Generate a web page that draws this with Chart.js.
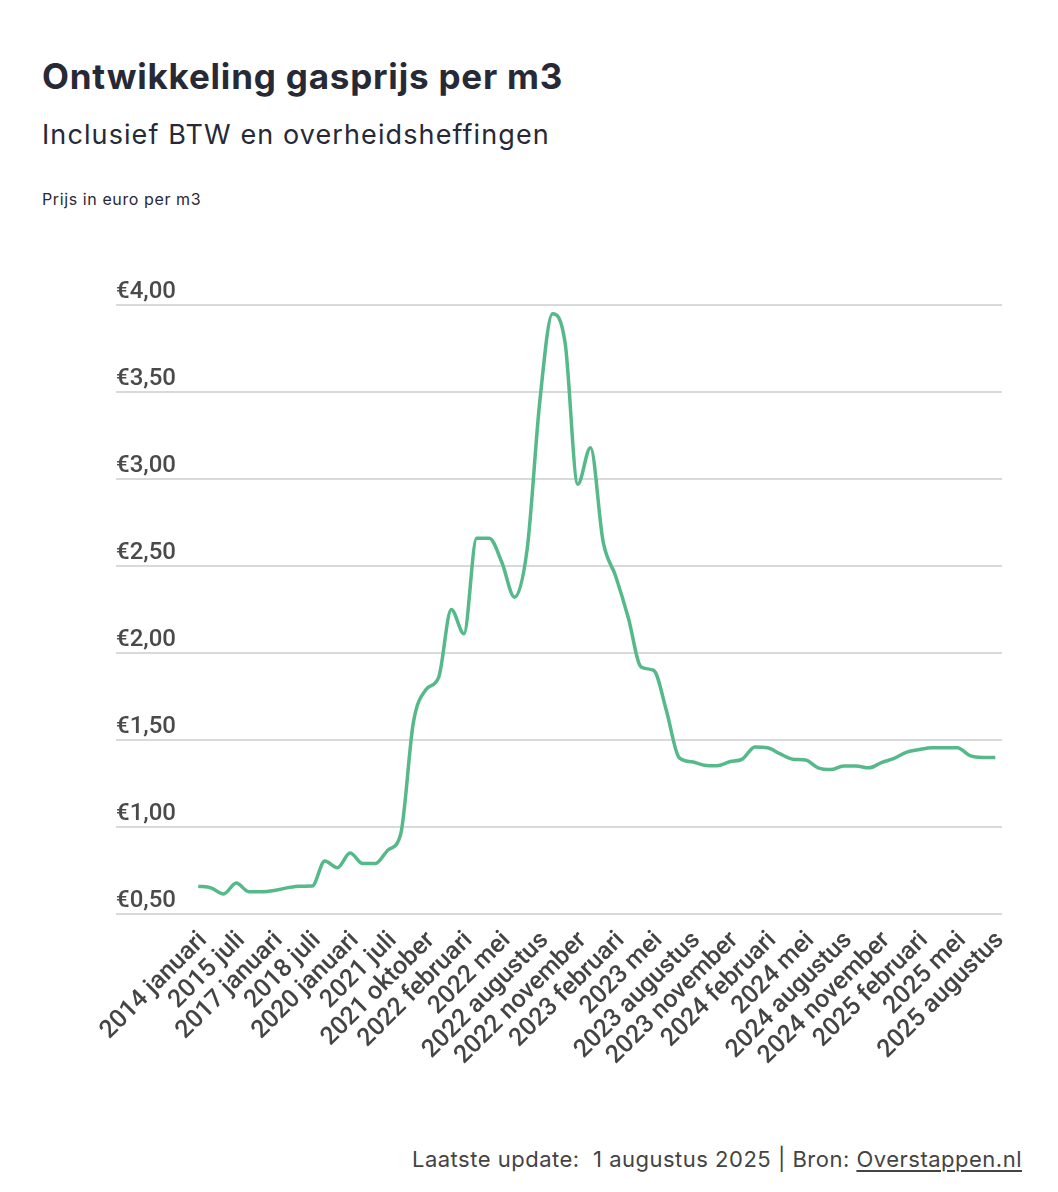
<!DOCTYPE html>
<html>
<head>
<meta charset="utf-8">
<script src="https://cdn.jsdelivr.net/npm/chart.js@4/dist/chart.umd.min.js"></script>
<style>
  body { margin: 0; background: #fff; }
  #page { position: relative; width: 1058px; height: 1192px; font-family: Inter, "Noto Sans", sans-serif; color: #272a36; }
  #title { position: absolute; left: 42px; top: 55px; font-size: 35px; font-weight: 700; letter-spacing: 0.8px; line-height: 42px; white-space: nowrap; }
  #subtitle { position: absolute; left: 42px; top: 119px; font-size: 27px; font-weight: 400; letter-spacing: 1.1px; line-height: 32px; white-space: nowrap; }
  #unit { position: absolute; left: 42px; top: 189px; font-size: 16px; letter-spacing: 0.6px; line-height: 20px; white-space: nowrap; }
  #wrap { position: absolute; left: 0; top: 270px; width: 1040px; height: 800px; }
  #footer { position: absolute; right: 36px; top: 1145px; font-size: 22px; letter-spacing: 0.5px; line-height: 28px; color: #444; white-space: nowrap; }
  #footer u { text-underline-offset: 3px; }
</style>
</head>
<body>
<div id="page">
  <div id="title">Ontwikkeling gasprijs per m3</div>
  <div id="subtitle">Inclusief BTW en overheidsheffingen</div>
  <div id="unit">Prijs in euro per m3</div>
  <div id="wrap"><canvas id="gasChart"></canvas></div>
  <div id="footer">Laatste update:&nbsp; 1 augustus 2025 | Bron: <u>Overstappen.nl</u></div>
</div>
<script>
months = [
  "2014 januari", "2014 juli", "2015 januari", "2015 juli", "2016 januari", "2016 juli",
  "2017 januari", "2017 juli", "2018 januari", "2018 juli", "2019 januari", "2019 juli",
  "2020 januari", "2020 juli", "2021 januari", "2021 juli", "2021 augustus", "2021 september",
  "2021 oktober", "2021 november", "2021 december", "2022 februari", "2022 maart", "2022 april",
  "2022 mei", "2022 juni", "2022 juli", "2022 augustus", "2022 september", "2022 oktober",
  "2022 november", "2022 december", "2023 januari", "2023 februari", "2023 maart", "2023 april",
  "2023 mei", "2023 juni", "2023 juli", "2023 augustus", "2023 september", "2023 oktober",
  "2023 november", "2023 december", "2024 januari", "2024 februari", "2024 maart", "2024 april",
  "2024 mei", "2024 juni", "2024 juli", "2024 augustus", "2024 september", "2024 oktober",
  "2024 november", "2024 december", "2025 januari", "2025 februari", "2025 maart", "2025 april",
  "2025 mei", "2025 juni", "2025 juli", "2025 augustus"
];

prices = [
  0.66, 0.65, 0.615, 0.678, 0.628, 0.628,
  0.635, 0.65, 0.66, 0.661, 0.805, 0.766,
  0.85, 0.79, 0.79, 0.868, 0.96, 1.60,
  1.79, 1.86, 2.25, 2.11, 2.66, 2.66,
  2.52, 2.32, 2.60, 3.45, 3.95, 3.78,
  2.97, 3.18, 2.64, 2.44, 2.20, 1.92,
  1.90, 1.67, 1.40, 1.375, 1.355, 1.352,
  1.375, 1.39, 1.46, 1.455, 1.42, 1.39,
  1.385, 1.34, 1.33, 1.35, 1.35, 1.34,
  1.37, 1.395, 1.43, 1.445, 1.455, 1.455,
  1.455, 1.41, 1.40, 1.40
];

tickLabels = [
  "2014 januari", "2015 juli", "2017 januari", "2018 juli", "2020 januari", "2021 juli",
  "2021 oktober", "2022 februari", "2022 mei", "2022 augustus", "2022 november", "2023 februari",
  "2023 mei", "2023 augustus", "2023 november", "2024 februari", "2024 mei", "2024 augustus",
  "2024 november", "2025 februari", "2025 mei", "2025 augustus"
];

yTicks = [0.5, 1, 1.5, 2, 2.5, 3, 3.5, 4];

points = prices.map((p, i) => ({ x: i, y: p }));
tickIdx = tickLabels.map(l => months.indexOf(l));

function euro(v) {
  return "€" + v.toFixed(2).replace(".", ",");
}

gasChart = new Chart(document.getElementById("gasChart"), {
  type: "line",
  data: {
    datasets: [{
      label: "Gasprijs",
      data: points,
      borderColor: "#55b98a",
      backgroundColor: "#55b98a",
      borderWidth: 3.5,
      pointRadius: 0,
      cubicInterpolationMode: "monotone"
    }]
  },
  options: {
    responsive: true,
    maintainAspectRatio: false,
    animation: false,
    layout: { padding: { left: 116, top: 35, right: 38, bottom: 6 } },
    plugins: {
      legend: { display: false },
      tooltip: { enabled: false }
    },
    scales: {
      x: {
        type: "linear",
        min: -6.505,
        max: 63.53,
        grid: { display: false },
        border: { display: false },
        afterBuildTicks: s => { s.ticks = tickIdx.map(v => ({ value: v })); },
        afterFit: s => { s.height = 150; },
        ticks: {
          autoSkip: false,
          minRotation: 45,
          maxRotation: 45,
          padding: 4,
          labelOffset: 5,
          color: "#444",
          font: { family: "Roboto", size: 25, weight: "500" },
          callback: v => months[v]
        }
      },
      y: {
        min: 0.5,
        max: 4,
        grid: { color: "#d9d9d9", lineWidth: 2, drawTicks: false },
        border: { display: false },
        afterBuildTicks: s => { s.ticks = yTicks.map(v => ({ value: v })); },
        afterFit: s => { s.width = 0; },
        ticks: {
          mirror: true,
          padding: 0,
          labelOffset: -13,
          color: "#4a4a4a",
          font: { family: "Roboto", size: 24, weight: "500" },
          callback: v => euro(v)
        }
      }
    }
  }
});
</script>
</body>
</html>
